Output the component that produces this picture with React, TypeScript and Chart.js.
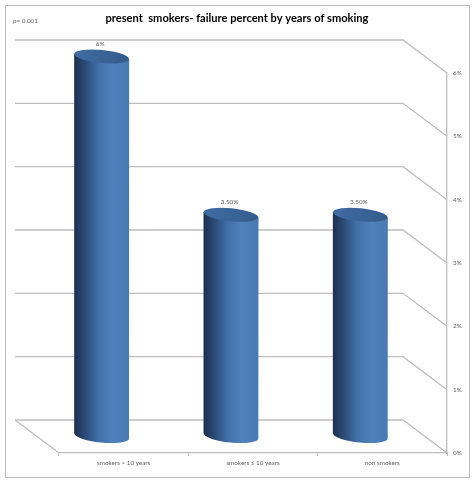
import React from 'react';
import Chart from 'chart.js/auto';

const categories = ['smokers > 10 years', 'smokers \u2264 10 years', 'non smokers'];
const values = [6, 3.5, 3.5];
const valueLabels = ['6%', '3.50%', '3.50%'];
const titleText = 'present  smokers- failure percent by years of smoking';
const noteText = 'p= 0.001';

const FONT = 'Lato, "Open Sans", sans-serif';
const GRAY = '#bdbdbd';
const TEXT = '#5f5f5f';
const SMALL = 6.3;
// how far the back wall sits from the front plane
const DEPTH_X = 44;
const DEPTH_Y = 33;
const TILT = 0.1;
const RY = 6.5;

// back wall gridlines + floor
const wallPlugin = {
    id: 'wall',
    beforeDatasetsDraw(chart: any) {
        const { ctx, scales, chartArea } = chart;
        ctx.save();
        ctx.strokeStyle = GRAY;
        ctx.lineWidth = 1.3;
        for (const tick of scales.y.ticks) {
            const y = scales.y.getPixelForValue(tick.value);
            ctx.beginPath();
            ctx.moveTo(chartArea.left - DEPTH_X, y - DEPTH_Y);
            ctx.lineTo(chartArea.right - DEPTH_X, y - DEPTH_Y);
            ctx.lineTo(chartArea.right, y);
            ctx.stroke();
        }
        const base = scales.y.getPixelForValue(0);
        ctx.beginPath();
        ctx.moveTo(chartArea.left - DEPTH_X, base - DEPTH_Y);
        ctx.lineTo(chartArea.left, base);
        ctx.stroke();
        ctx.restore();
    },
};

// bars are drawn as cylinders, from the bar elements the chart laid out
const cylinderPlugin = {
    id: 'cylinder',
    afterDatasetsDraw(chart: any) {
        const { ctx } = chart;
        chart.getDatasetMeta(0).data.forEach((bar: any, i: number) => {
            const cx = bar.x - DEPTH_X / 2;
            const top = bar.y - DEPTH_Y / 2;
            const bottom = bar.base - DEPTH_Y / 2;
            const rx = bar.width / 2;
            const dy = rx * Math.sin(TILT);

            const body = ctx.createLinearGradient(cx - rx, 0, cx + rx, 0);
            body.addColorStop(0, '#1c2f4f');
            body.addColorStop(0.2, '#2c4b76');
            body.addColorStop(0.45, '#4271aa');
            body.addColorStop(0.7, '#4f81bd');
            body.addColorStop(1, '#4a79b2');

            ctx.save();
            ctx.beginPath();
            ctx.moveTo(cx - rx, top - dy);
            ctx.lineTo(cx - rx, bottom - dy);
            ctx.ellipse(cx, bottom, rx, RY, TILT, Math.PI, 0, true);
            ctx.lineTo(cx + rx, top + dy);
            ctx.closePath();
            ctx.fillStyle = body;
            ctx.fill();

            const lid = ctx.createLinearGradient(cx - rx, 0, cx + rx, 0);
            lid.addColorStop(0, '#3f6ca3');
            lid.addColorStop(1, '#345b8c');
            ctx.beginPath();
            ctx.ellipse(cx, top, rx, RY, TILT, 0, Math.PI * 2);
            ctx.fillStyle = lid;
            ctx.fill();

            ctx.fillStyle = TEXT;
            ctx.font = `${SMALL}px ${FONT}`;
            ctx.textAlign = 'center';
            ctx.textBaseline = 'middle';
            ctx.fillText(valueLabels[i], cx - 1.5, top - 13);
            ctx.restore();
        });
    },
};

// title is centred on the whole page, not on the plot, so it goes here
const textPlugin = {
    id: 'pageText',
    afterDraw(chart: any) {
        const { ctx, width } = chart;
        ctx.save();
        ctx.textBaseline = 'middle';
        ctx.fillStyle = '#000000';
        ctx.font = `bold 11.1px ${FONT}`;
        ctx.textAlign = 'center';
        ctx.fillText(titleText, width / 2, 18);
        ctx.fillStyle = TEXT;
        ctx.font = `${SMALL}px ${FONT}`;
        ctx.textAlign = 'left';
        ctx.fillText(noteText, 13, 21);
        ctx.restore();
    },
};

const App = () => {
    const canvasRef = React.useRef<HTMLCanvasElement>(null);

    React.useEffect(() => {
        const chart = new Chart(canvasRef.current, {
            type: 'bar',
            data: {
                labels: categories,
                datasets: [{
                    data: values,
                    backgroundColor: 'transparent',
                    barPercentage: 0.425,
                    categoryPercentage: 1,
                }],
            },
            options: {
                animation: false,
                responsive: false,
                layout: { padding: { left: 59, right: 0, top: 73, bottom: 0 } },
                plugins: {
                    legend: { display: false },
                    tooltip: { enabled: false },
                    title: { display: false },
                },
                scales: {
                    x: {
                        grid: { drawOnChartArea: false, drawTicks: true, tickLength: 3, color: GRAY, offset: true },
                        border: { color: GRAY, width: 1.3 },
                        ticks: { color: TEXT, font: { family: FONT, size: SMALL }, padding: 3, maxRotation: 0 },
                        afterFit: (axis: any) => { axis.height = 29; },
                    },
                    y: {
                        position: 'right',
                        min: 0,
                        max: 6,
                        grid: { drawOnChartArea: false, drawTicks: false, color: GRAY },
                        border: { color: GRAY, width: 1.3 },
                        ticks: {
                            stepSize: 1,
                            color: TEXT,
                            font: { family: FONT, size: SMALL },
                            padding: 6,
                            callback: (v: any) => `${v}%`,
                        },
                        afterFit: (axis: any) => { axis.width = 27; },
                    },
                },
            },
            plugins: [wallPlugin, cylinderPlugin, textPlugin],
        } as any);

        return () => {
            chart.destroy();
        };
    }, []);

    return (
        <div style={{ position: 'absolute', left: 0, top: 0, width: 474, height: 482, background: '#fff' }}>
            <canvas ref={canvasRef} width={474} height={482} style={{ display: 'block' }}></canvas>
            <div style={{
                position: 'absolute', left: 5, top: 5, width: 463, height: 471,
                border: `1px solid ${GRAY}`, pointerEvents: 'none',
            }}></div>
        </div>
    );
};

export default App;
